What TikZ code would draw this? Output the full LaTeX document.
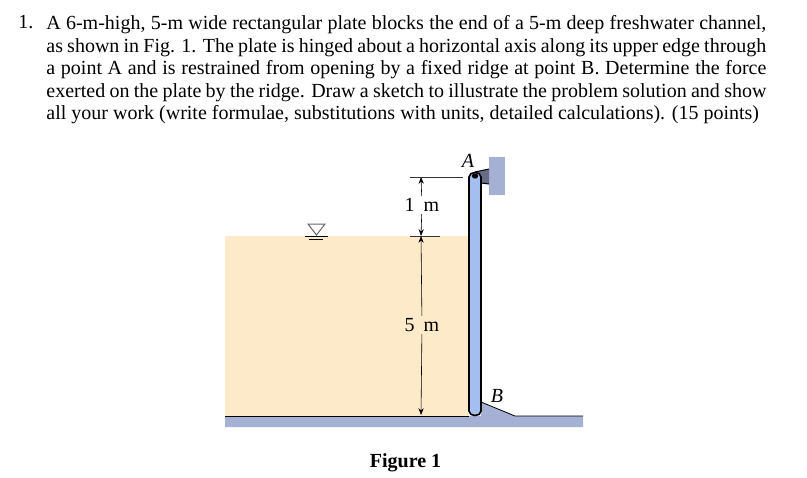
\documentclass[tikz,border=0pt]{standalone}
\usepackage{fontspec}
\setmainfont{Liberation Serif}
\usetikzlibrary{arrows.meta, positioning, calc}
\definecolor{waterfill}{RGB}{253,234,200}
\definecolor{groundfill}{RGB}{165,177,212}
\definecolor{platefill}{RGB}{165,190,240}
\definecolor{bracketfill}{RGB}{105,108,135}
\begin{document}
\begin{tikzpicture}[
    x=0.5pt, y=-0.5pt,
    % Styles
    problemtext/.style={anchor=north west, inner sep=0pt, font=\fontsize{10}{11.3}\selectfont},
    dimlabel/.style={font=\fontsize{10}{11}\selectfont, inner sep=1pt},
    pointlabel/.style={font=\fontsize{10}{11}\selectfont\itshape, inner sep=0pt},
    dimline/.style={-{Stealth[length=3.4pt, width=2.6pt]}, line width=0.3pt},
    extline/.style={line width=0.3pt, draw=black!80}
]
    \useasboundingbox (0,0) rectangle (807,477);

    % Problem statement
    \node[problemtext] (number) at (18,15) {1.};
    \node[problemtext, text width=360pt, align=justify] (statement) at (46,15) {\tolerance=9000 A 6-m-high, 5-m wide rectangular plate blocks the end of a 5-m deep freshwater channel,\linebreak
        as shown in Fig. 1. The plate is hinged about a horizontal axis along its upper edge through\linebreak
        a point A and is restrained from opening by a fixed ridge at point B. Determine the force\linebreak
        exerted on the plate by the ridge. Draw a sketch to illustrate the problem solution and show\linebreak
        all your work (write formulae, substitutions with units, detailed calculations). (15 points)};

    % Water
    \fill[waterfill] (225,236) rectangle (469,416);

    % Ground and ridge B
    \fill[groundfill] (225,416) -- (481,416) -- (481,402) -- (515,416) -- (583,416) -- (583,427) -- (225,427) -- cycle;
    \draw[line width=0.4pt] (225,416) -- (469,416);
    \draw[line width=0.4pt] (481,402) -- (515,416) -- (583,416);

    % Wall and bracket at A
    \fill[groundfill] (489,157) rectangle (505,195);
    \fill[bracketfill] (475,172) -- (489,169) -- (489,184) -- (481,183) -- cycle;
    \draw[line width=0.5pt] (475,172) -- (489,169) (481,183) -- (489,184);

    % Plate
    \draw[fill=platefill, line width=0.8pt] (469,177) .. controls (469,171) and (481,171) .. (481,177) -- (481,411) .. controls (481,417) and (469,417) .. (469,411) -- cycle;
    \fill[black] (475,176) ellipse (3.2 and 2.6);

    % Dimensions
    \coordinate (topA) at (421,177);
    \coordinate (surface) at (421,236);
    \coordinate (bottom) at (421,415);
    \node[dimlabel] (onem) at (422,205) {1\hspace{2pt} m};
    \node[dimlabel] (fivem) at (422,325) {5\hspace{2pt} m};
    \draw[extline] (410,177) -- (463,177);
    \draw[extline] (410,236) -- (440,236);
    \draw[dimline] (onem) -- (topA);
    \draw[dimline] (onem) -- (surface);
    \draw[dimline] (fivem) -- (surface);
    \draw[dimline] (fivem) -- (bottom);

    % Labels
    \node[pointlabel] (labelA) at (468,161) {A};
    \node[pointlabel] (labelB) at (497,396) {B};

    % Water level mark
    \draw[line width=0.5pt, draw=black!60] (308,224) -- (325,224) -- (316.5,235) -- cycle;
    \draw[line width=0.4pt] (305,236) -- (328,236);
    \draw[line width=0.4pt] (309,239) -- (323,239);

    % Caption
    \node[font=\fontsize{10}{11}\selectfont\bfseries, inner sep=0pt] (caption) at (405.5,462.5) {Figure 1};
\end{tikzpicture}
\end{document}
